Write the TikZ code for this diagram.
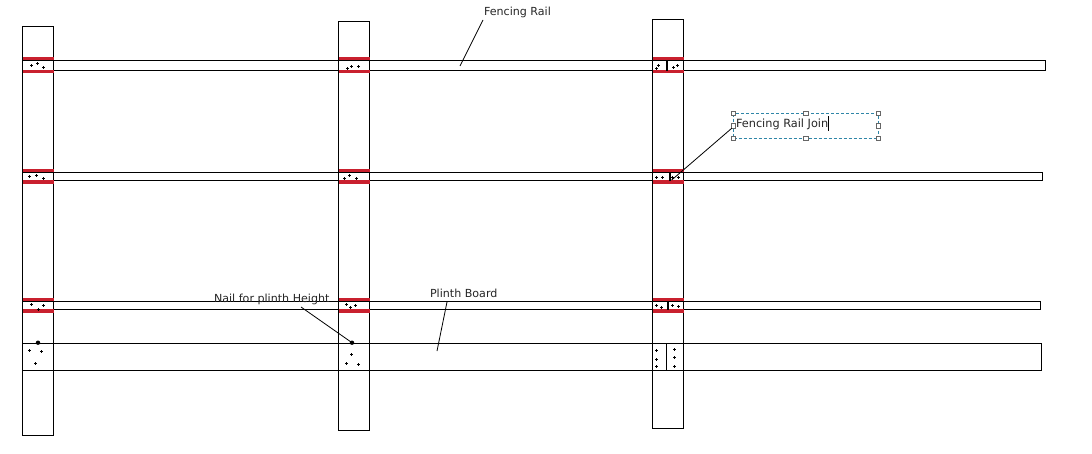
\documentclass[tikz,border=0pt]{standalone}
\usepackage{fontspec}
\setmainfont{DejaVu Sans}
\definecolor{railred}{HTML}{C9202E}
\definecolor{selblue}{HTML}{2F86A8}
\tikzset{
  board/.style={draw=black,line width=1pt,rectangle,inner sep=0pt,outer sep=0pt,anchor=north west},
  redbar/.style={draw=none,fill=railred,rectangle,inner sep=0pt,outer sep=0pt,minimum width=31pt,minimum height=3.6pt},
  lbl/.style={inner sep=0pt,outer sep=0pt,anchor=west,font=\fontsize{11.1pt}{13pt}\selectfont,text=black!85},
  leader/.style={draw=black,line width=0.8pt},
  joinline/.style={draw=black,line width=2pt},
  thinjoin/.style={draw=black,line width=1pt},
  handle/.style={draw=black!60,fill=white,line width=0.9pt,rectangle,inner sep=0pt,outer sep=0pt,minimum size=4.6pt},
  nail/.pic={\draw[black,line width=1pt] (-1.5,0)--(1.5,0) (0,-1.5)--(0,1.5);}
}
\begin{document}
\begin{tikzpicture}[x=1pt,y=-1pt]
\useasboundingbox[fill=white] (0,0) rectangle (1092,453);
% rails and plinth
\node[board,minimum width=1023pt,minimum height=10pt] (rail1) at (22.5,60.5) {};
\node[board,minimum width=1020pt,minimum height=8.5pt] (rail2) at (22.5,172.2) {};
\node[board,minimum width=1018pt,minimum height=8.5pt] (rail3) at (22.5,301.2) {};
\node[board,minimum width=1019pt,minimum height=27pt] (plinth) at (22.5,343.4) {};
% posts
\node[board,minimum width=31pt,minimum height=409pt] (post1) at (22.5,26.5) {};
\node[board,minimum width=31pt,minimum height=409pt] (post2) at (338.5,21.5) {};
\node[board,minimum width=31pt,minimum height=409pt] (post3) at (652.5,19.5) {};
% red bars
\foreach \px/\nm in {38/a,354/b,668/c}{
  \foreach \py in {58.3,71.6,170.3,181.7,299.3,310.7}{
    \node[redbar] at (\px,\py) {};
  }
}
% joins
\coordinate (j1a) at (666.7,60.5); \coordinate (j1b) at (666.7,70.5);
\coordinate (j2a) at (670,172.2); \coordinate (j2b) at (670,180.7);
\coordinate (j3a) at (668.3,301.2); \coordinate (j3b) at (668.3,309.7);
\coordinate (j4a) at (666.3,343.4); \coordinate (j4b) at (666.3,370.4);
\draw[joinline] (j1a)--(j1b);
\draw[joinline] (j2a)--(j2b);
\draw[joinline] (j3a)--(j3b);
\draw[thinjoin] (j4a)--(j4b);
% nails
\foreach \x/\y in {31.5/65.5,37.5/63.5,43.5/67.5,
  347.5/68.5,351.5/66.5,358.5/66.5,
  656.5/68.5,658.5/65.5,673.5/67.5,677.5/65.5,
  29.5/176.5,36.5/175.5,43.5/178.5,
  344.5/178.5,349.5/175.5,356.5/178.5,
  656.5/177.5,662.5/177.5,672.5/177.5,678.5/177.5,
  31.5/304.5,43.5/305.5,38.5/309.5,
  346.5/304.5,350.5/307.5,355.5/305.5,
  656.5/305.5,661.5/307.5,672.5/305.5,678.5/306.5,
  29.5/350.5,41.5/351.5,35.5/363.5,
  351.5/354.5,346.5/363.5,358.5/364.5,
  656.5/350.5,656.5/359.5,656.5/366.5,674.5/349.5,674.5/357.5,674.5/366.5}{
  \pic at (\x,\y) {nail};
}
\fill[black] (38,342.7) circle[radius=2.2];
\coordinate (nailend) at (352,342.7);
\fill[black] (nailend) circle[radius=2.2];
% labels
\node[lbl] (lfr) at (484,12) {Fencing Rail};
\node[lbl] (lpb) at (430,293) {Plinth Board};
\node[lbl] (lnh) at (214,299) {Nail for plinth Height};
\node[lbl,font=\fontsize{11.3pt}{13pt}\selectfont] (lfj) at (736,124.5) {Fencing Rail Join};
% selection frame
\node[rectangle,draw=selblue,densely dashed,line width=1.2pt,minimum width=145pt,minimum height=25pt,inner sep=0pt,outer sep=0pt,anchor=north west] (sel) at (733.5,113.5) {};
\foreach \a in {north west,north,north east,west,east,south west,south,south east}{
  \node[handle] at (sel.\a) {};
}
\coordinate (cara) at (828.7,116); \coordinate (carb) at (828.7,130.7);
\draw[black,line width=0.8pt] (cara)--(carb);
% leaders
\coordinate (e1) at (460,66);
\coordinate (e2) at (671.7,180);
\coordinate (e3) at (437,351);
\coordinate (s1) at (483,20);
\coordinate (s2) at (731.7,128.3);
\coordinate (s3) at (447,302);
\coordinate (s4) at (301,307);
\draw[leader] (s1)--(e1);
\draw[leader] (s2)--(e2);
\draw[leader] (s3)--(e3);
\draw[leader] (s4)--(nailend);
\end{tikzpicture}
\end{document}
